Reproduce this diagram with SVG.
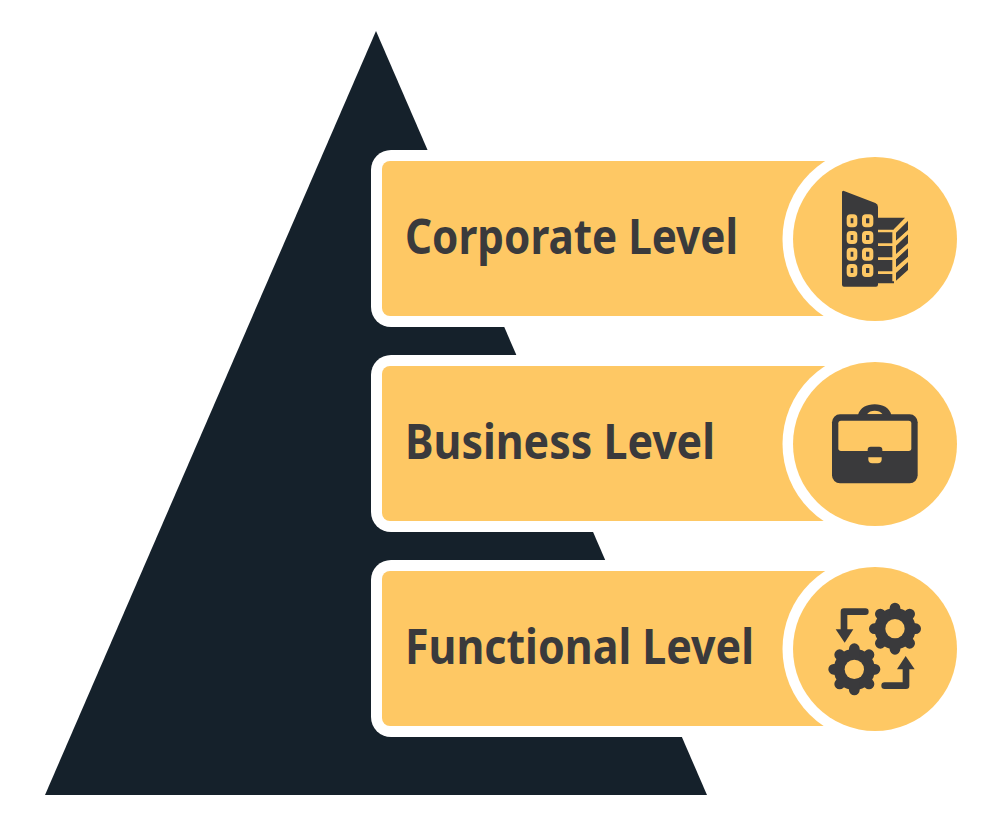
<svg xmlns="http://www.w3.org/2000/svg" xmlns:xlink="http://www.w3.org/1999/xlink" width="1000" height="826" viewBox="0 0 1000 826">
<style>
.bg{fill:#fff}
.bar{fill:#fec864}
.dk{fill:#3a3a3c}
.ye{fill:#fec864}
.lbl{font-family:"Noto Sans","Open Sans","Liberation Sans",sans-serif;font-weight:700;font-size:48px;fill:#3a3a3c}
.yl{stroke:#fec864;fill:none;stroke-width:8}
.win{stroke:#fec864;fill:#3a3a3c;stroke-width:12}
.ar{stroke:#3a3a3c;fill:none;stroke-width:20;stroke-linejoin:round;stroke-linecap:round}
</style>
<defs>
<g id="plate">
<rect class="bg" x="371" y="150" width="500" height="177" rx="20"/>
<rect class="bar" x="382" y="161" width="490" height="155" rx="8"/>
<circle class="bg" cx="875" cy="239" r="92.500"/>
<circle class="bar" cx="875" cy="239" r="82"/>
</g>
<g id="gear">
<circle class="dk" r="62"/>
<g stroke="#3a3a3c" stroke-width="32" stroke-linecap="round">
<path d="M0 -62V62M-62 0H62M-44 -44L44 44M-44 44L44 -44"/>
</g>
<circle class="ye" r="29"/>
</g>
</defs>
<rect class="bg" width="1000" height="826"/>
<polygon id="pyramid" points="376,31 707,795 45,795" fill="#15212b"/>
<g id="corporate-level">
<use xlink:href="#plate" href="#plate"/>
<text class="lbl" x="405" y="254" textLength="333" lengthAdjust="spacingAndGlyphs">Corporate Level</text>
<g id="icon-building" transform="translate(770 150) scale(.33333)">
<path class="dk" d="M216 127Q216 121 222 123L316 159Q324 162 324 171V203H405L372 238V400H324V404Q324 410 318 410H222Q216 410 216 404Z"/>
<path class="dk" d="M378 248L414 213V240L378 272ZM378 287L414 253V280L378 312ZM378 328L414 294V320L378 352ZM378 368L414 335V360L378 392Z"/>
<g class="yl">
<path d="M324 243H372L410 208M324 284H372L412 248M324 326H372L412 290M324 368H372L412 332M371 240V394"/>
</g>
<rect class="win" x="236" y="199" width="20" height="27" rx="6"/><rect class="win" x="282" y="199" width="22" height="27" rx="6"/>
<rect class="win" x="236" y="249" width="20" height="27" rx="6"/><rect class="win" x="282" y="249" width="22" height="27" rx="6"/>
<rect class="win" x="236" y="299" width="20" height="27" rx="6"/><rect class="win" x="282" y="299" width="22" height="27" rx="6"/>
<rect class="win" x="236" y="348" width="20" height="27" rx="6"/><rect class="win" x="282" y="348" width="22" height="27" rx="6"/>
</g>
</g>
<g id="business-level" transform="translate(0 205)">
<use xlink:href="#plate" href="#plate"/>
<text class="lbl" x="405" y="254" textLength="310" lengthAdjust="spacingAndGlyphs">Business Level</text>
<g id="icon-briefcase" transform="translate(770 150) scale(.33333)">
<path class="dk" d="M264 180C270 158 290 148 314 148C338 148 358 158 364 180Z"/>
<path class="ye" d="M291 178C296 170 304 167 314 167C324 167 332 170 338 178Z"/>
<rect class="dk" x="186" y="178" width="257" height="207" rx="24"/>
<rect class="ye" x="205" y="197" width="219" height="91" rx="8"/>
<rect class="dk" x="293" y="275" width="44" height="30" rx="9"/>
<path class="ye" d="M295 307H335V313Q335 325 323 325H307Q295 325 295 313Z"/>
</g>
</g>
<g id="functional-level" transform="translate(0 410)">
<use xlink:href="#plate" href="#plate"/>
<text class="lbl" x="405" y="254" textLength="349" lengthAdjust="spacingAndGlyphs">Functional Level</text>
<g id="icon-gears" transform="translate(770 150) scale(.33333)">
<use xlink:href="#gear" href="#gear" x="375" y="206"/>
<use xlink:href="#gear" href="#gear" x="253" y="328"/>
<path class="ar" d="M286 155H222V212"/>
<polygon class="dk" points="197,208 250,208 224,248"/>
<path class="ar" d="M344 377H408V325"/>
<polygon class="dk" points="381,328 434,328 407,288"/>
</g>
</g>
</svg>
